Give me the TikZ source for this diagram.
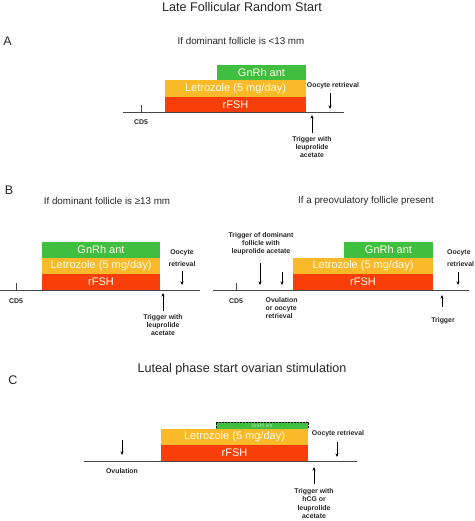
\documentclass[tikz,border=0pt]{standalone}
\usepackage{fontspec}
\setmainfont{Liberation Sans}
\usetikzlibrary{arrows.meta}
\definecolor{gbar}{RGB}{64,190,64}
\definecolor{obar}{RGB}{250,185,40}
\definecolor{rbar}{RGB}{250,62,10}
\definecolor{tline}{RGB}{70,70,70}
\tikzset{
  bar/.style={inner sep=0pt, outer sep=0pt, text=white!92!yellow, font=\fontsize{11}{12}\selectfont},
  ttl/.style={inner sep=0pt, text=black!85, font=\fontsize{12.6}{14}\selectfont},
  sub/.style={inner sep=0pt, text=black!85, font=\fontsize{9.8}{11}\selectfont},
  lbl/.style={inner sep=0pt, text=black!85, align=center, font=\fontsize{6.9}{8.2}\selectfont\bfseries},
  panel/.style={inner sep=0pt, text=black!85, font=\fontsize{12.5}{14}\selectfont},
  axis/.style={draw=tline, line width=0.8pt},
  tick/.style={draw=tline, line width=0.8pt},
  arr/.style={draw=black, line width=0.7pt, -{Stealth[length=3.5pt,width=3pt]}}
}
\begin{document}
\begin{tikzpicture}[x=1pt,y=-1pt]
\useasboundingbox (0,0) rectangle (474,521);
% ---------- Panel A ----------
\node[ttl] (titleA) at (242,7) {Late Follicular Random Start};
\node[panel] (pA) at (7.5,41) {A};
\node[sub] (subA) at (241,41) {If dominant follicle is <13 mm};
\node[bar, fill=gbar, minimum width=89pt, minimum height=15pt] (gA) at (261.5,72.5) {GnRh ant};
\node[bar, fill=obar, minimum width=141pt, minimum height=17pt] (lA) at (235.5,88.5) {Letrozole (5 mg/day)};
\node[bar, fill=rbar, minimum width=141pt, minimum height=15pt] (rA) at (235.5,104.5) {rFSH};
\coordinate (a1) at (123,112); \coordinate (a2) at (344,112);
\draw[axis] (a1) -- (a2);
\coordinate (cdA) at (141,112); \coordinate (cdAt) at (141,105);
\draw[tick] (cdA) -- (cdAt);
\node[lbl] (cd5A) at (141,122) {CD5};
\node[lbl] (ooA) at (333,86) {Oocyte retrieval};
\coordinate (ooAe) at (330,109);
\draw[arr] (330,93) -- (ooAe);
\node[lbl] (trA) at (312,147) {Trigger with\\leuprolide\\acetate};
\coordinate (trAe) at (312,115);
\draw[arr] (312,133) -- (trAe);
% ---------- Panel B left ----------
\node[panel] (pB) at (9,190) {B};
\node[sub] (subB1) at (107,201) {If dominant follicle is ≥13 mm};
\node[bar, fill=gbar, minimum width=118pt, minimum height=16pt] (gB) at (101,250) {GnRh ant};
\node[bar, fill=obar, minimum width=118pt, minimum height=16pt] (lB) at (101,266) {Letrozole (5 mg/day)};
\node[bar, fill=rbar, minimum width=118pt, minimum height=16pt] (rB) at (101,282) {rFSH};
\coordinate (b1) at (0,290); \coordinate (b2) at (200,290);
\draw[axis] (b1) -- (b2);
\coordinate (cdB) at (16,290); \coordinate (cdBt) at (16,283);
\draw[tick] (cdB) -- (cdBt);
\node[lbl] (cd5B) at (16,301) {CD5};
\node[lbl, font=\fontsize{6.9}{12}\selectfont\bfseries] (ooB) at (182,258) {Oocyte\\retrieval};
\coordinate (ooBe) at (182,285);
\draw[arr] (182,271) -- (ooBe);
\node[lbl] (trB) at (163,325) {Trigger with\\leuprolide\\acetate};
\coordinate (trBe) at (163,293);
\draw[arr] (163,311) -- (trBe);
% ---------- Panel B right ----------
\node[sub] (subB2) at (366,201) {If a preovulatory follicle present};
\coordinate (c1) at (213,290); \coordinate (c2) at (469,290);
\draw[axis] (c1) -- (c2);
\coordinate (cdC) at (236,290); \coordinate (cdCt) at (236,283);
\draw[tick] (cdC) -- (cdCt);
\node[lbl] (cd5C) at (236,301) {CD5};
\node[lbl] (tdC) at (261,244) {Trigger of dominant\\follicle with\\leuprolide acetate};
\coordinate (tdCe) at (260,285);
\draw[arr] (260,263) -- (tdCe);
\node[lbl, align=left, anchor=west] (ovC) at (265.5,308) {Ovulation\\or oocyte\\retrieval};
\coordinate (ovCe) at (282,285);
\draw[arr] (282,272) -- (ovCe);
\node[bar, fill=gbar, minimum width=89pt, minimum height=16pt] (gC) at (388.5,250) {GnRh ant};
\node[bar, fill=obar, minimum width=140pt, minimum height=16pt] (lC) at (363,266) {Letrozole (5 mg/day)};
\node[bar, fill=rbar, minimum width=140pt, minimum height=16pt] (rC) at (363,282) {rFSH};
\node[lbl] (trC) at (443,321) {Trigger};
\coordinate (trCe) at (442,295);
\draw[arr] (442,307) -- (trCe);
\node[lbl, align=left, anchor=west, font=\fontsize{6.9}{12}\selectfont\bfseries] (ooC) at (447,258) {Oocyte\\retrieval};
\coordinate (ooCe) at (458,285);
\draw[arr] (458,272) -- (ooCe);
% ---------- Panel C ----------
\node[ttl] (titleC) at (242,369) {Luteal phase start ovarian stimulation};
\node[panel] (pC) at (13,380) {C};
\node[bar, fill=gbar, draw=black, dash pattern=on 2pt off 1pt, line width=0.6pt, minimum width=92pt, minimum height=7pt, text=white!65!gbar, font=\fontsize{4.8}{5}\selectfont] (gD) at (262,425.5) {GnRh ant};
\node[bar, fill=obar, minimum width=147pt, minimum height=16pt] (lD) at (234.5,437) {Letrozole (5 mg/day)};
\node[bar, fill=rbar, minimum width=147pt, minimum height=16pt] (rD) at (234.5,453) {rFSH};
\coordinate (d1) at (84,461); \coordinate (d2) at (357,461);
\draw[axis] (d1) -- (d2);
\node[lbl] (ovD) at (122,471) {Ovulation};
\coordinate (ovDe) at (122,455);
\draw[arr] (122,440) -- (ovDe);
\node[lbl] (ooD) at (338,434) {Oocyte retrieval};
\coordinate (ooDe) at (337,457);
\draw[arr] (337,442) -- (ooDe);
\node[lbl] (trD) at (314,503.5) {Trigger with\\hCG or\\leuprolide\\acetate};
\coordinate (trDe) at (314,467);
\draw[arr] (314,484) -- (trDe);
\end{tikzpicture}
\end{document}
